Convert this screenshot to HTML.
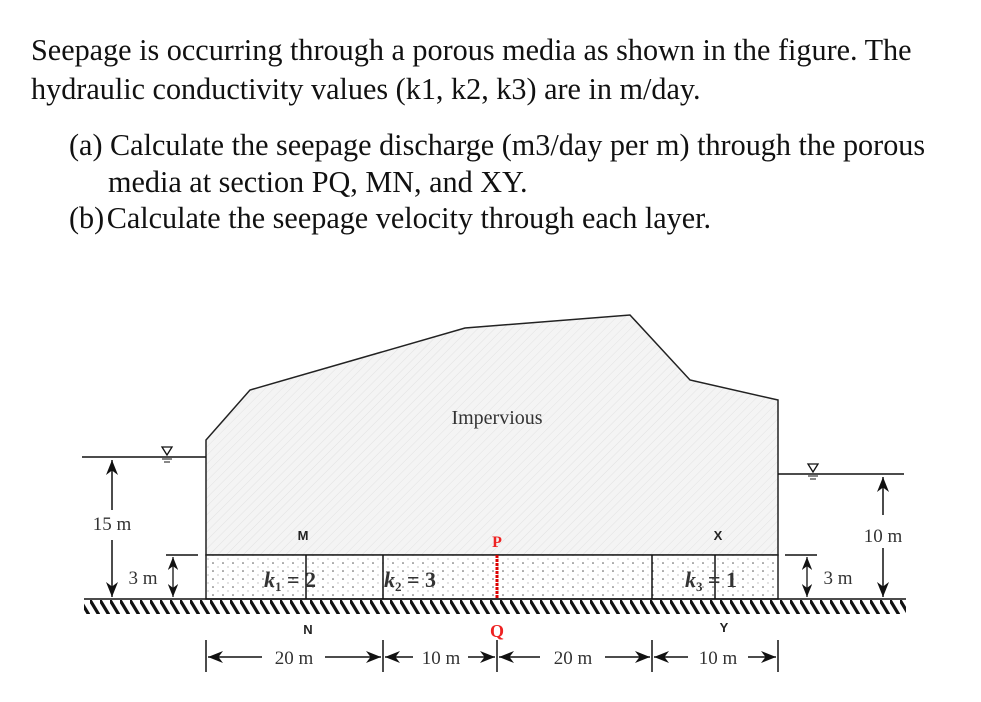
<!DOCTYPE html>
<html><head><meta charset="utf-8"><style>
body{margin:0;background:#fff;width:981px;height:702px;overflow:hidden;position:relative;font-family:"Liberation Serif",serif;color:#111}
.t{position:absolute;font-size:30.2px;white-space:nowrap;line-height:34px}
</style></head><body>
<div class="t" style="left:31px;top:33px">Seepage is occurring through a porous media as shown in the figure. The</div>
<div class="t" style="left:31px;top:72px">hydraulic conductivity values (k1, k2, k3) are in m/day.</div>
<div class="t" style="left:69px;top:128px">(a) Calculate the seepage discharge (m3/day per m) through the porous</div>
<div class="t" style="left:108px;top:165px">media at section PQ, MN, and XY.</div>
<div class="t" style="left:69px;top:201px">(b)&#8202;Calculate the seepage velocity through each layer.</div>
<svg width="981" height="702" style="position:absolute;left:0;top:0">
<defs>
<pattern id="hatch" width="6" height="6" patternUnits="userSpaceOnUse" patternTransform="rotate(45)"><rect width="6" height="6" fill="#f4f4f4"/><line x1="0" y1="0" x2="0" y2="6" stroke="#e2e2e2" stroke-width="1"/></pattern>
<pattern id="dots" width="10" height="8" patternUnits="userSpaceOnUse"><rect width="10" height="8" fill="#fff"/><circle cx="3" cy="3" r="0.8" fill="#555"/><circle cx="8" cy="7" r="0.6" fill="#999"/></pattern>
<pattern id="ground" width="10" height="15" patternUnits="userSpaceOnUse"><line x1="0" y1="0" x2="9" y2="15" stroke="#111" stroke-width="3.2"/></pattern>
<marker id="ah" markerWidth="10" markerHeight="8" refX="10" refY="4" orient="auto"><path d="M0,0 L10,4 L0,8 L3,4z" fill="#111"/></marker>
</defs>
<path d="M206,555 L206,440 L250,390 L465,328 L630,315 L690,380 L778,400 L778,555 Z" fill="url(#hatch)" stroke="#222" stroke-width="1.5"/>
<rect x="206" y="555" width="572" height="44" fill="url(#dots)" stroke="#222" stroke-width="1.5"/>
<rect x="84" y="600" width="822" height="14" fill="url(#ground)"/>
<line x1="84" y1="599" x2="906" y2="599" stroke="#111" stroke-width="1.5"/>
<line x1="306" y1="555" x2="306" y2="599" stroke="#111" stroke-width="1.5"/>
<line x1="383" y1="555" x2="383" y2="599" stroke="#111" stroke-width="1.5"/>
<line x1="652" y1="555" x2="652" y2="599" stroke="#111" stroke-width="1.5"/>
<line x1="715" y1="555" x2="715" y2="599" stroke="#111" stroke-width="1.5"/>
<line x1="497" y1="555" x2="497" y2="599" stroke="#d00" stroke-width="3" stroke-dasharray="3,1"/>
<line x1="82" y1="457" x2="206" y2="457" stroke="#111" stroke-width="1.5"/>
<path d="M162,447 L172,447 L167,455 Z" fill="none" stroke="#111" stroke-width="1.3"/><line x1="162" y1="459" x2="172" y2="459" stroke="#111"/><line x1="164" y1="462" x2="170" y2="462" stroke="#111"/>
<line x1="778" y1="474" x2="904" y2="474" stroke="#111" stroke-width="1.5"/>
<path d="M808,464 L818,464 L813,472 Z" fill="none" stroke="#111" stroke-width="1.3"/><line x1="808" y1="476" x2="818" y2="476" stroke="#111"/><line x1="810" y1="479" x2="816" y2="479" stroke="#111"/>
<line x1="112" y1="510" x2="112" y2="460" stroke="#111" stroke-width="1.5" marker-end="url(#ah)"/>
<line x1="112" y1="540" x2="112" y2="597" stroke="#111" stroke-width="1.5" marker-end="url(#ah)"/>
<text x="112" y="530" font-size="19" text-anchor="middle" fill="#333">15 m</text>
<line x1="166" y1="555" x2="198" y2="555" stroke="#111" stroke-width="1.5"/>
<line x1="173" y1="577" x2="173" y2="557" stroke="#111" stroke-width="1.3" marker-end="url(#ah)"/>
<line x1="173" y1="577" x2="173" y2="597" stroke="#111" stroke-width="1.3" marker-end="url(#ah)"/>
<text x="143" y="584" font-size="19" text-anchor="middle" fill="#333">3 m</text>
<line x1="883" y1="515" x2="883" y2="477" stroke="#111" stroke-width="1.5" marker-end="url(#ah)"/>
<line x1="883" y1="548" x2="883" y2="597" stroke="#111" stroke-width="1.5" marker-end="url(#ah)"/>
<text x="883" y="542" font-size="19" text-anchor="middle" fill="#333">10 m</text>
<line x1="785" y1="555" x2="817" y2="555" stroke="#111" stroke-width="1.5"/>
<line x1="807" y1="577" x2="807" y2="557" stroke="#111" stroke-width="1.3" marker-end="url(#ah)"/>
<line x1="807" y1="577" x2="807" y2="597" stroke="#111" stroke-width="1.3" marker-end="url(#ah)"/>
<text x="838" y="584" font-size="19" text-anchor="middle" fill="#333">3 m</text>
<text x="497" y="424" font-size="20" text-anchor="middle" fill="#333">Impervious</text>
<g font-family="Liberation Sans,sans-serif" font-weight="bold" font-size="13" text-anchor="middle" fill="#222">
<text x="303" y="540">M</text><text x="308" y="634">N</text><text x="718" y="540">X</text><text x="724" y="632">Y</text></g>
<text x="497" y="547" font-size="16" font-weight="bold" text-anchor="middle" fill="#e22">P</text>
<text x="497" y="637" font-size="18" font-weight="bold" text-anchor="middle" fill="#e22">Q</text>
<g font-size="22" font-weight="bold" fill="#333"><text x="264" y="587"><tspan font-style="italic">k</tspan><tspan font-size="13" dy="4">1</tspan><tspan dy="-4"> = 2</tspan></text>
<text x="384" y="587"><tspan font-style="italic">k</tspan><tspan font-size="13" dy="4">2</tspan><tspan dy="-4"> = 3</tspan></text>
<text x="685" y="587"><tspan font-style="italic">k</tspan><tspan font-size="13" dy="4">3</tspan><tspan dy="-4"> = 1</tspan></text></g>
<g stroke="#111" stroke-width="1.5"><line x1="206" y1="640" x2="206" y2="672"/><line x1="383" y1="640" x2="383" y2="672"/><line x1="497" y1="640" x2="497" y2="672"/><line x1="652" y1="640" x2="652" y2="672"/><line x1="778" y1="640" x2="778" y2="672"/>
<line x1="262" y1="657" x2="208" y2="657" marker-end="url(#ah)"/><line x1="325" y1="657" x2="381" y2="657" marker-end="url(#ah)"/>
<line x1="413" y1="657" x2="385" y2="657" marker-end="url(#ah)"/><line x1="468" y1="657" x2="495" y2="657" marker-end="url(#ah)"/>
<line x1="540" y1="657" x2="499" y2="657" marker-end="url(#ah)"/><line x1="605" y1="657" x2="650" y2="657" marker-end="url(#ah)"/>
<line x1="688" y1="657" x2="654" y2="657" marker-end="url(#ah)"/><line x1="748" y1="657" x2="776" y2="657" marker-end="url(#ah)"/></g>
<g font-size="19" text-anchor="middle" fill="#333"><text x="294" y="664">20 m</text><text x="441" y="664">10 m</text><text x="573" y="664">20 m</text><text x="718" y="664">10 m</text></g>
</svg>
</body></html>
